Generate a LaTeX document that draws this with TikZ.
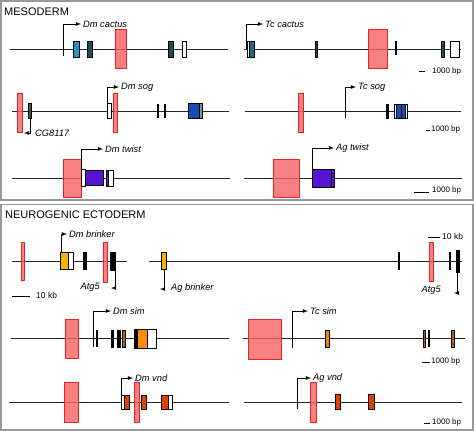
\documentclass[tikz,border=0pt]{standalone}
\usepackage{fontspec}
\setmainfont{Liberation Sans}
\usetikzlibrary{arrows}

\definecolor{enhred}{RGB}{246,96,96}
\definecolor{enhline}{RGB}{230,35,35}
\definecolor{cyanex}{RGB}{30,150,200}
\definecolor{tealex}{RGB}{30,75,90}
\definecolor{sogblue}{RGB}{20,80,180}
\definecolor{twpurple}{RGB}{85,20,210}
\definecolor{brkyellow}{RGB}{240,180,0}
\definecolor{simorange}{RGB}{255,140,0}
\definecolor{simbrown}{RGB}{180,95,30}
\definecolor{vndred}{RGB}{225,65,0}
\definecolor{cggreen}{RGB}{40,100,40}

\tikzset{
  frame/.style={draw=black!40, line width=1.3pt},
  dna/.style={draw=black!85, line width=1pt},
  exon/.style={draw=black, line width=0.6pt},
  bar/.style={draw=black, line width=1.1pt},
  enh/.style={draw=enhline, fill=enhred, fill opacity=0.8, line width=0.6pt},
  tss/.style={>=latex,->,line width=0.8pt},
  gname/.style={font=\fontsize{9.3}{11}\selectfont\itshape, inner sep=2pt, anchor=west},
  sect/.style={font=\fontsize{11}{13}\selectfont, inner sep=0pt, anchor=base west},
  sbar/.style={line width=0.9pt},
  slabel/.style={font=\fontsize{8}{10}\selectfont, inner sep=0pt, anchor=west}
}

\begin{document}
\begin{tikzpicture}[x=1pt,y=-1pt]
\useasboundingbox (0,0) rectangle (474,431);

% frames
\draw[frame] (1,1) rectangle (473,200);
\draw[frame] (1,204.5) rectangle (473,430);
\node[sect] (meso) at (4,15) {MESODERM};
\node[sect] (neuro) at (5,218) {NEUROGENIC ECTODERM};

% Dm cactus
\draw[dna] (10,49) -- (228,49);
\draw[exon, fill=cyanex] (73,41) rectangle (79,57);
\draw[exon, fill=tealex] (87,41) rectangle (92,57);
\draw[exon, fill=tealex] (168,41) rectangle (173,57);
\draw[exon, fill=white] (182,41) rectangle (186,57);
\draw[enh] (115,29) rectangle (126,68);
\node[gname] (dmcactus) at (81,24) {Dm cactus};
\draw[tss] (63,56) |- (dmcactus.west);

% Tc cactus
\draw[dna] (244,49) -- (461,49);
\draw[exon, fill=white] (247,41) rectangle (254,57);
\draw[exon, fill=tealex!60!cyanex] (249.5,41) rectangle (254,57);
\draw[exon, fill=tealex] (315,41) rectangle (317.5,57);
\draw[enh] (368,29) rectangle (387,68);
\draw[bar] (396,41) -- (396,55);
\draw[exon, fill=tealex] (441,41) rectangle (444,57);
\draw[exon, fill=white] (450,41) rectangle (459,57);
\node[gname] (tccactus) at (263,24) {Tc cactus};
\draw[tss] (246,49) |- (tccactus.west);
\draw[sbar] (419,71) -- (425,71);
\node[slabel] (scaleA) at (432,71) {1000 bp};

% Dm sog
\draw[dna] (12,111) -- (229,111);
\draw[exon, fill=cggreen] (28,103) rectangle (31,118);
\draw[enh] (17,93) rectangle (22,132);
\node[gname] (cg) at (33,133) {CG8117};
\draw[tss] (30,118) |- (24,133);
\draw[exon, fill=white] (107,103) rectangle (111,118);
\draw[enh] (113,93) rectangle (117,132);
\node[gname] (dmsog) at (119,87) {Dm sog};
\draw[tss] (107,117) |- (dmsog.west);
\draw[bar] (158,104) -- (158,118);
\draw[bar] (165,104) -- (165,118);
\draw[exon, fill=black!45] (188,103) rectangle (202,118);
\draw[exon, fill=sogblue] (188,103) rectangle (199,118);

% Tc sog
\draw[dna] (245,111) -- (461,111);
\draw[enh] (298,93) rectangle (303,132);
\node[gname] (tcsog) at (356,87) {Tc sog};
\draw[tss] (345,118) |- (tcsog.west);
\draw[exon, fill=black] (386,104) rectangle (388,118);
\draw[exon, fill=white] (394,104) rectangle (407,118);
\draw[exon, fill=sogblue] (396,104) rectangle (405,118);
\draw[exon] (401,104) -- (401,118);
\draw[sbar] (426,130) -- (430,130);
\node[slabel] (scaleB) at (431,129) {1000 bp};

% Dm twist
\draw[dna] (12,178) -- (230,178);
\draw[enh] (63,159) rectangle (81,197);
\draw[exon, fill=white] (81,169) rectangle (85,186);
\draw[exon, fill=twpurple] (85,170) rectangle (103,185);
\draw[exon, fill=white] (106,170) rectangle (113,186);
\draw[exon, fill=twpurple] (106,170) rectangle (108.5,186);
\node[gname] (dmtwist) at (103,149) {Dm twist};
\draw[tss] (81,169) |- (dmtwist.west);

% Ag twist
\draw[dna] (244,178) -- (462,178);
\draw[enh] (273,159) rectangle (299,197);
\draw[exon, fill=twpurple] (312,169) rectangle (334,187);
\draw[exon] (331,169) -- (331,187);
\node[gname] (agtwist) at (334,148) {Ag twist};
\draw[tss] (312,169) |- (agtwist.west);
\draw[sbar] (414,192) -- (429,192);
\node[slabel] (scaleC) at (432,190) {1000 bp};

% brinker
\draw[dna] (12,261) -- (127,261);
\draw[dna] (149,261) -- (462,261);
\draw[enh] (21,242) rectangle (24,280);
\draw[exon, fill=brkyellow] (60,252) rectangle (68,269);
\draw[exon, fill=white] (68,252) rectangle (73,269);
\node[gname] (dmbrk) at (67,234) {Dm brinker};
\draw[tss] (61,252) |- (dmbrk.west);
\draw[exon, fill=black] (83,252) rectangle (86,269);
\draw[enh] (103,242) rectangle (107,282);
\draw[exon, fill=black] (110,252) rectangle (112,270);
\draw[exon, fill=black] (113,252) rectangle (115,270);
\node[gname, anchor=east] (atgA) at (102,287) {Atg5};
\draw[tss] (115,270) |- (111,288);
\draw[exon, fill=brkyellow] (161,252) rectangle (166,269);
\node[gname] (agbrk) at (169,288) {Ag brinker};
\draw[tss] (164,269) |- (160,289);
\draw[bar] (399,252) -- (399,270);
\draw[enh] (429,242) rectangle (433,281);
\draw[bar] (450,252) -- (450,270);
\draw[exon, fill=black] (456,250) rectangle (459,272);
\node[gname, anchor=east] (atgB) at (443,290) {Atg5};
\draw[tss] (457,272) |- (454,293);
\draw[sbar] (12,296) -- (30,296);
\node[slabel, font=\fontsize{8.5}{10}\selectfont] (scaleD) at (36,295) {10 kb};
\draw[sbar] (428,237) -- (440,237);
\node[slabel, font=\fontsize{8.5}{10}\selectfont] (scaleE) at (442,236) {10 kb};

% Dm sim
\draw[dna] (11,338) -- (229,338);
\draw[enh] (65,319) rectangle (78,358);
\node[gname] (dmsim) at (111,311) {Dm sim};
\draw[tss] (93,347) |- (dmsim.west);
\draw[bar] (97,330) -- (97,347);
\draw[exon, fill=black] (111,330) rectangle (113,347);
\draw[exon, fill=black] (117,330) rectangle (120,347);
\draw[exon, fill=simbrown] (122,330) rectangle (125,347);
\draw[exon, fill=white] (134,329) rectangle (156,348);
\draw[exon, fill=simorange] (134,329) rectangle (147,348);
\draw[exon, fill=black] (134,329) rectangle (137,348);

% Tc sim
\draw[dna] (243,338) -- (465,338);
\draw[enh] (248,319) rectangle (281,359);
\node[gname] (tcsim) at (308,311) {Tc sim};
\draw[tss] (292,348) |- (tcsim.west);
\draw[exon, fill=simorange!80!simbrown] (325,330) rectangle (329,347);
\draw[exon, fill=simbrown] (423,330) rectangle (425.5,347);
\draw[bar] (429,330) -- (429,347);
\draw[exon, fill=simbrown] (451,330) rectangle (454,347);
\draw[sbar] (422,362) -- (430,362);
\node[slabel] (scaleF) at (431,361) {1000 bp};

% Dm vnd
\draw[dna] (9,402) -- (229,402);
\draw[enh] (64,382) rectangle (78,422);
\draw[exon, fill=white] (121,395) rectangle (129,409);
\draw[exon, fill=vndred] (124,395) rectangle (129,409);
\draw[enh] (134,382) rectangle (139,422);
\draw[exon, fill=vndred] (141,395) rectangle (146,409);
\draw[exon, fill=white] (161,395) rectangle (172,409);
\draw[exon, fill=vndred] (161,395) rectangle (168,409);
\node[gname] (dmvnd) at (133,378) {Dm vnd};
\draw[tss] (121,409) |- (dmvnd.west);

% Ag vnd
\draw[dna] (244,402) -- (462,402);
\node[gname] (agvnd) at (311,378) {Ag vnd};
\draw[tss] (297,409) |- (agvnd.west);
\draw[enh] (310,382) rectangle (316,422);
\draw[exon, fill=vndred] (335,394) rectangle (340,409);
\draw[exon, fill=vndred] (368,394) rectangle (374,409);
\draw[sbar] (424,423) -- (430,423);
\node[slabel] (scaleG) at (432,422) {1000 bp};

\end{tikzpicture}
\end{document}
